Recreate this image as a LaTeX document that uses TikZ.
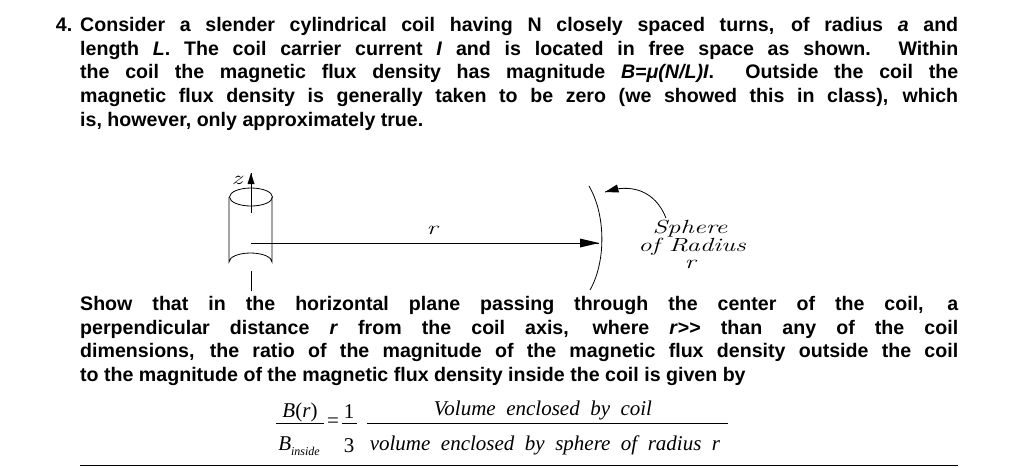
\documentclass[tikz,border=0pt]{standalone}
\usepackage{fontspec}
\usepackage{graphicx}
\setmainfont{Liberation Sans}
\newfontfamily\eqfont{Liberation Serif}
\newfontfamily\lmrfont{Latin Modern Roman}
\usetikzlibrary{arrows.meta}
\begin{document}
\begin{tikzpicture}[x=1pt,y=-1pt,
  para/.style={anchor=north west,inner sep=0pt,text width=878pt,align=justify,font=\bfseries\fontsize{19.6}{23.7}\selectfont},
  eq/.style={inner sep=0pt,font=\eqfont\fontsize{21}{24}\selectfont},
  lab/.style={inner sep=0pt,font=\lmrfont\itshape\fontsize{19}{19}\selectfont}]
\useasboundingbox (0,0) rectangle (1024,467);
\node[para] (p1) at (80,17) {\makebox[0pt][r]{4.\hspace{8pt}}Consider a slender cylindrical coil having N closely spaced turns, of radius \textit{a} and\linebreak
length \textit{L}. The coil carrier current \textit{I} and is located in free space as shown.\ \ Within\linebreak
the coil the magnetic flux density has magnitude \textit{B=μ(N/L)I}.\ \ Outside the coil the\linebreak
magnetic flux density is generally taken to be zero (we showed this in class), which\linebreak
is, however, only approximately true.};
\node[para] (p2) at (80,296) {Show that in the horizontal plane passing through the center of the coil, a\linebreak
perpendicular distance \textit{r} from the coil axis, where \textit{r}{>}{>} than any of the coil\linebreak
dimensions, the ratio of the magnitude of the magnetic flux density outside the coil\linebreak
to the magnitude of the magnetic flux density inside the coil is given by};
% figure
\coordinate (ct) at (251,197);
\draw[line width=0.8pt] (229,197) -- (229,262) arc[start angle=180,end angle=360,x radius=21.5,y radius=9] -- (272,197);
\draw[line width=0.8pt] (ct) ellipse[x radius=21.5,y radius=9];
\coordinate (zt) at (251,173);
\coordinate (zb) at (251,291);
\draw[line width=0.8pt] (251,213) -- (zt);
\fill (zt) -- (247.5,184) -- (254.5,184) -- cycle;
\draw[line width=0.8pt] (251,271) -- (zb);
\node[lab] (z) at (237,180) {\scalebox{1.4}[1]{z}};
\coordinate (o) at (251,243);
\coordinate (tip) at (599,243);
\draw[line width=0.8pt] (o) -- (tip);
\fill (tip) -- (580,238.5) -- (580,247.5) -- cycle;
\node[lab] (r) at (432,230) {\scalebox{1.4}[1]{r}};
\draw[line width=0.8pt] (589,186) .. controls (606,215) and (606,262) .. (590,290);
\coordinate (as) at (666,218);
\coordinate (ae) at (605,192);
\draw[line width=0.8pt] (as) .. controls (655,190) and (630,183) .. (ae);
\fill (ae) -- (617,184.5) -- (619,192.5) -- cycle;
\node[lab] (s1) at (690,229) {\scalebox{1.4}[1]{Sphere}};
\node[lab] (s2) at (692,247) {\scalebox{1.4}[1]{of\ Radius}};
\node[lab] (s3) at (690,264) {\scalebox{1.4}[1]{r}};
% equation
\node[eq] (br) at (300,412) {\textit{B}(\textit{r})};
\node[eq] (bi) at (299,446) {\textit{B}\raisebox{-5pt}{\fontsize{12}{12}\selectfont\textit{inside}}};
\draw[line width=0.7pt] (276,423) -- (324,423);
\node[eq] (eqs) at (333,423) {=};
\node[eq] (one) at (349,412) {1};
\node[eq] (three) at (349,446) {3};
\draw[line width=0.7pt] (342,423) -- (357,423);
\node[eq] (num) at (543,410) {\textit{Volume\ \ enclosed\ \ by\ \ coil}};
\node[eq] (den) at (545,445) {\textit{volume\ \ enclosed\ \ by\ \ sphere\ \ of\ \ radius\ \ r}};
\draw[line width=0.7pt] (367,423) -- (728,423);
\draw[line width=1pt] (80,465) -- (958,465);
\end{tikzpicture}
\end{document}
